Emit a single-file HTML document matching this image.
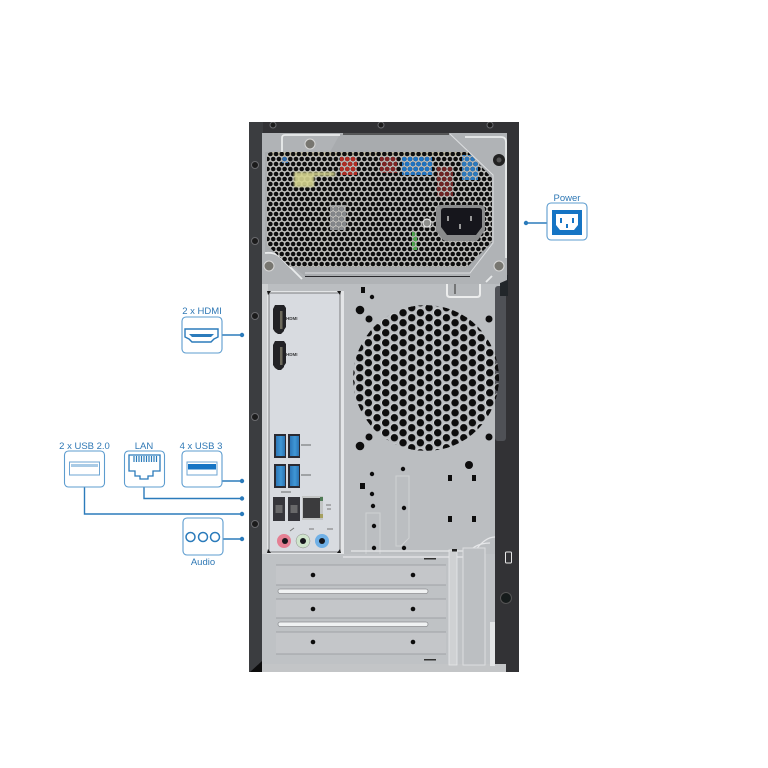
<!DOCTYPE html>
<html>
<head>
<meta charset="utf-8">
<style>
html,body{margin:0;padding:0;background:#fff;width:768px;height:768px;overflow:hidden}
svg{display:block}
text{font-family:"Liberation Sans",sans-serif;font-size:9.5px;fill:#2f78b5;text-anchor:middle}
text.hd{font-size:4.5px;font-weight:bold;fill:#3a3b3d;text-anchor:start}
</style>
</head>
<body>
<svg width="768" height="768" viewBox="0 0 768 768" xmlns="http://www.w3.org/2000/svg">
<defs>
<linearGradient id="metal" x1="0" y1="0" x2="1" y2="1">
<stop offset="0" stop-color="#c3c6c9"/><stop offset=".45" stop-color="#b6b9bc"/><stop offset="1" stop-color="#c2c5c8"/>
</linearGradient>
<linearGradient id="usbb" x1="0" y1="0" x2="1" y2="0">
<stop offset="0" stop-color="#2c77b8"/><stop offset=".55" stop-color="#3f97d6"/><stop offset="1" stop-color="#2a72b2"/>
</linearGradient>
<pattern id="psuhex" width="5.7" height="10" patternUnits="userSpaceOnUse" patternTransform="translate(267.5 154)">
<circle cx="2.85" cy="0" r="2.3" fill="#08080a"/><circle cx="2.85" cy="10" r="2.3" fill="#08080a"/><circle cx="0" cy="5" r="2.3" fill="#08080a"/><circle cx="5.7" cy="5" r="2.3" fill="#08080a"/>
</pattern>
<pattern id="psuhexw" width="5.7" height="10" patternUnits="userSpaceOnUse" patternTransform="translate(267.5 154)">
<circle cx="2.85" cy="0" r="2.3" fill="#fff"/><circle cx="2.85" cy="10" r="2.3" fill="#fff"/><circle cx="0" cy="5" r="2.3" fill="#fff"/><circle cx="5.7" cy="5" r="2.3" fill="#fff"/>
</pattern>
<pattern id="fanhex" width="17.34" height="10" patternUnits="userSpaceOnUse" patternTransform="translate(411.7 307.7)">
<g fill="#f3f4f5" opacity=".65"><circle cx="-.3" cy="-.4" r="4.1"/><circle cx="17.04" cy="-.4" r="4.1"/><circle cx="-.3" cy="9.6" r="4.1"/><circle cx="17.04" cy="9.6" r="4.1"/><circle cx="8.37" cy="4.6" r="4.1"/></g>
<g fill="#08080a"><circle cx="0" cy="0" r="3.75"/><circle cx="17.34" cy="0" r="3.75"/><circle cx="0" cy="10" r="3.75"/><circle cx="17.34" cy="10" r="3.75"/><circle cx="8.67" cy="5" r="3.75"/></g>
</pattern>
<mask id="holemask" maskUnits="userSpaceOnUse" x="260" y="145" width="240" height="130"><rect x="260" y="145" width="240" height="130" fill="url(#psuhexw)"/></mask>
<clipPath id="psuclip"><path d="M272 152H468L492 178V242L467 267H290L267 245V157Q267 152 272 152Z"/></clipPath>
<clipPath id="fanclip"><circle cx="426" cy="378" r="73"/></clipPath>
<filter id="soft" x="-5%" y="-5%" width="110%" height="110%"><feGaussianBlur stdDeviation="1"/></filter>
<filter id="all" x="0" y="0" width="100%" height="100%"><feGaussianBlur stdDeviation=".3"/></filter>
</defs>

<g filter="url(#all)">
<!-- chassis -->
<rect x="249" y="122" width="270" height="550" fill="#303135"/>
<rect x="249" y="122" width="14" height="550" fill="#3b3c41"/>
<polygon points="262,133 507,133 507,283 495,290 495,664 506,664 506,672 262,672" fill="url(#metal)"/>
<rect x="495" y="286" width="11" height="155" rx="3" fill="#505156"/>
<rect x="500" y="275" width="8" height="21" fill="#242529"/>
<path d="M250 672l12-11v11z" fill="#111"/>

<!-- PSU plate -->
<polygon points="262,133 507,133 507,280 498,284 262,284" fill="#b0b3b6"/>
<polygon points="340,134 450,134 493,175 493,243 470,273 305,276 280,257 265,253 265,152 330,152" fill="#a8abae"/>
<path d="M282 152v-14q0-3 3-3h55M465 137h36q5 0 5 5v116M265 253q10-1 15 4l22 22M486 282l6-6" fill="none" stroke="#e9ebec" stroke-width="1.800"/>
<path d="M450 134l43 41v68l-23 30H305" fill="none" stroke="#dcdee0" stroke-width="1"/>
<path d="M343 134h106" stroke="#222" stroke-width="1.200"/>
<path d="M305 276.500h165" stroke="#2c2c2e" stroke-width="1"/>

<!-- PSU grille -->
<path d="M272 152H468L492 178V242L467 267H290L267 245V157Q267 152 272 152Z" fill="#c2c2bf"/>
<g clip-path="url(#psuclip)">
<rect x="268" y="152" width="200" height="4" fill="#c2bda6"/>
<rect x="260" y="145" width="240" height="130" fill="url(#psuhex)"/>
<g mask="url(#holemask)">
<rect x="340" y="157" width="17" height="18" fill="#b02a22"/>
<rect x="380" y="157" width="17" height="16" fill="#7e2424"/>
<rect x="402" y="157" width="30" height="18" fill="#1f72c2"/>
<rect x="462" y="155" width="16" height="25" fill="#2a79bf"/>
<rect x="437" y="167" width="16" height="30" fill="#6e2224"/>
<rect x="412" y="232" width="5" height="18" fill="#48a348"/>
<rect x="282" y="157" width="6" height="6" fill="#2a66a8"/>
<rect x="330" y="205" width="16" height="25" fill="#83868a"/>
</g>
<g filter="url(#soft)" opacity=".9">
<rect x="294" y="172" width="20" height="15" fill="#d6d590"/><rect x="294" y="172" width="41" height="4" fill="#d6d590"/>
</g>
</g>
<!-- power socket -->
<path d="M441 205h39q5 0 5 5v20l-7 10q-1 1-3 1h-29q-2 0-3-1l-7-9v-21q0-5 5-5z" fill="#8a8b8c"/>
<path d="M444 208h35q3 0 3 3v16l-6 8h-29l-6-8v-16q0-3 3-3z" fill="#17171a"/>
<rect x="447" y="216" width="2" height="5" fill="#999"/><rect x="470" y="216" width="2" height="5" fill="#999"/><rect x="459" y="224" width="2" height="5" fill="#999"/>
<circle cx="427" cy="223" r="4" fill="#8e8f8c" stroke="#e3e3e3" stroke-width="1.200"/>
<!-- screws -->
<g fill="#77766f" stroke="#d8d8d8" stroke-width="1">
<circle cx="310" cy="144" r="5"/><circle cx="269" cy="266" r="5"/><circle cx="499" cy="266" r="5"/>
</g>
<circle cx="499" cy="160" r="6" fill="#222"/><circle cx="499" cy="160" r="2.500" fill="#555"/>
<g fill="#1c1c1f" stroke="#6a6b6e" stroke-width="1">
<circle cx="273" cy="125" r="3"/><circle cx="381" cy="125" r="3"/><circle cx="490" cy="125" r="3"/>
<circle cx="255" cy="165" r="3.500"/><circle cx="255" cy="241" r="3.500"/><circle cx="255" cy="316" r="3.500"/><circle cx="255" cy="417" r="3.500"/><circle cx="255" cy="524" r="3.500"/>
</g>
<circle cx="506" cy="598" r="5.500" fill="#191a1c" stroke="#555"/>
<rect x="505.500" y="552" width="6" height="11" rx="1" fill="#303135" stroke="#e8e8e8"/>

<!-- lower metal -->
<rect x="262" y="284" width="233" height="270" fill="#bbbec1"/>
<rect x="262" y="284" width="6" height="270" fill="#cdcfd1"/>
<path d="M447 284v10q0 3 3 3h27q3 0 3-3v-10" fill="#b5b8bb" stroke="#eceded" stroke-width="2"/>
<path d="M455 284v10" stroke="#333"/>
<!-- fan -->
<circle cx="426" cy="378" r="73" fill="url(#fanhex)" clip-path="url(#fanclip)"/>
<g fill="#0c0c0f">
<circle cx="360" cy="310" r="4.300"/><circle cx="369" cy="319" r="3.500"/><circle cx="489" cy="319" r="3.500"/>
<circle cx="360" cy="446" r="4.300"/><circle cx="369" cy="437" r="3.500"/><circle cx="489" cy="437" r="3.500"/>
<circle cx="469" cy="465" r="4"/><circle cx="403" cy="469" r="2.200"/><circle cx="372" cy="474" r="2.200"/>
<circle cx="372" cy="494" r="2.200"/><circle cx="373" cy="506" r="2.200"/><circle cx="404" cy="508" r="2.200"/><circle cx="374" cy="526" r="2.200"/>
<circle cx="374" cy="548" r="2.200"/><circle cx="404" cy="548" r="2.200"/><circle cx="372" cy="297" r="2.200"/>
<rect x="361" y="287" width="4" height="6"/><rect x="360" y="483" width="5" height="6"/>
<rect x="448" y="475" width="4" height="6"/><rect x="472" y="475" width="4" height="6"/>
<rect x="448" y="516" width="4" height="6"/><rect x="472" y="516" width="4" height="6"/>
</g>
<path d="M396 476h13v62l-8 8h-5zM366 513h14v42h-14z" fill="none" stroke="#cfd1d3" stroke-width="1"/>
<path d="M351 551h124q10-14 20-14" fill="none" stroke="#e6e7e9" stroke-width="1.200"/>

<!-- IO shield -->
<rect x="267" y="291" width="77" height="266" fill="#e3e5e7"/>
<rect x="269" y="293" width="71" height="259" fill="#d8dbe0" stroke="#7c7e81" stroke-width="1"/>
<g fill="#141416"><path d="M267 291h4l-3 4zM341 291h-4l3 4zM267 553h4l-3-4zM341 553h-4l3-4z"/></g>
<!-- HDMI -->
<g fill="#232326">
<path d="M275 305h9l2 3v19l-2 3v1l-3 3h-3l-3-2-2-3v-20z"/><path d="M275 341h9l2 3v19l-2 3v1l-3 3h-3l-3-2-2-3v-20z"/>
</g>
<g fill="#6d6a5c"><rect x="280" y="311" width="2.500" height="18"/><rect x="280" y="347" width="2.500" height="18"/></g>
<text class="hd" x="286" y="320">HDMI</text>
<text class="hd" x="286" y="356">HDMI</text>
<!-- USB3 -->
<rect x="274" y="434" width="12" height="24" fill="#2a2b30"/><rect x="276" y="436" width="9" height="20" fill="url(#usbb)"/>
<rect x="288" y="434" width="12" height="24" fill="#2a2b30"/><rect x="290" y="436" width="9" height="20" fill="url(#usbb)"/>
<rect x="274" y="464" width="12" height="24" fill="#2a2b30"/><rect x="276" y="466" width="9" height="20" fill="url(#usbb)"/>
<rect x="288" y="464" width="12" height="24" fill="#2a2b30"/><rect x="290" y="466" width="9" height="20" fill="url(#usbb)"/>
<path d="M301 445h10M301 475h10M281 492h10" stroke="#66686b" stroke-width="1"/>
<!-- USB2 -->
<rect x="273" y="497" width="12" height="24" fill="#34343a"/><rect x="288" y="497" width="12" height="24" fill="#34343a"/>
<rect x="275.500" y="505" width="7" height="8" fill="#68686a"/><rect x="290.500" y="505" width="7" height="8" fill="#68686a"/>
<!-- LAN -->
<rect x="302" y="496" width="21" height="24" fill="#c3c5c5"/>
<rect x="303" y="498" width="17" height="20" fill="#3a3b3e"/>
<rect x="320" y="497" width="3" height="4" fill="#4f7a55"/><rect x="320" y="514" width="3" height="4" fill="#a5a060"/>
<path d="M326 505h5M327 509h4" stroke="#777"/>
<!-- audio -->
<circle cx="284" cy="541" r="7" fill="#e57f93"/><circle cx="285" cy="541" r="3" fill="#17171a"/>
<circle cx="303" cy="541" r="7" fill="#cfe4cc" stroke="#888" stroke-width=".5"/><circle cx="303" cy="541" r="3" fill="#17171a"/>
<circle cx="322" cy="541" r="7" fill="#6fb0e6"/><circle cx="322" cy="541" r="3" fill="#17171a"/>
<path d="M290 531l4-3M309 529h5M327 529h6" stroke="#777"/>

<!-- expansion area -->
<rect x="262" y="554" width="233" height="118" fill="#bfc2c5"/>
<rect x="262" y="664" width="244" height="8" fill="#c3c5c7"/>
<rect x="276" y="565" width="170" height="20" fill="#c4c6c9"/>
<rect x="276" y="599" width="170" height="19" fill="#c4c6c9"/>
<rect x="276" y="632" width="170" height="22" fill="#c4c6c9"/>
<path d="M276 565h170M276 585h170M276 599h170M276 618h170M276 632h170M276 654h170" stroke="#95989b" stroke-width=".7"/>
<rect x="278" y="589" width="150" height="4.500" rx="2.200" fill="#f0f2f3" stroke="#8d8f92" stroke-width=".8"/>
<rect x="278" y="622" width="150" height="4.500" rx="2.200" fill="#f0f2f3" stroke="#8d8f92" stroke-width=".8"/>
<path d="M343 557h122q8-14 25-14" fill="none" stroke="#e6e7e9" stroke-width="1.200"/>
<g fill="#0c0c0f">
<circle cx="313" cy="575" r="2.300"/><circle cx="413" cy="575" r="2.300"/>
<circle cx="313" cy="609" r="2.300"/><circle cx="413" cy="609" r="2.300"/>
<circle cx="313" cy="642" r="2.300"/><circle cx="413" cy="642" r="2.300"/>
</g>
<rect x="424" y="558" width="12" height="1.500" fill="#333"/><rect x="424" y="659" width="12" height="1.500" fill="#333"/>
<path d="M449 550h8v115h-8z" fill="#cfd1d3" stroke="#e7e8e9" stroke-width=".8"/>
<rect x="452" y="549" width="5" height="2.500" fill="#222"/>
<rect x="463" y="548" width="22" height="117" fill="#bcbfc2" stroke="#dcdee0"/>
<rect x="490" y="622" width="5" height="44" fill="#e3e5e6"/>
</g>

<!-- callouts -->
<g fill="none" stroke="#2b7bbb" stroke-width="1.400">
<path d="M222 335h20M222 481h20M144 487v11.500h98M84.500 487v27h157.500M223 539h19M526 223h21"/>
</g>
<g fill="#2b7bbb">
<circle cx="242" cy="335" r="2.200"/><circle cx="242" cy="481" r="2.200"/><circle cx="242" cy="498.500" r="2.200"/><circle cx="242" cy="514" r="2.200"/><circle cx="242" cy="539" r="2.200"/><circle cx="526" cy="223" r="2.200"/>
</g>
<g fill="#fff" stroke="#5c9ccf" stroke-width="1.100">
<rect x="182" y="317" width="40" height="36" rx="4"/>
<rect x="182" y="451" width="40" height="36" rx="4"/>
<rect x="124.500" y="451" width="40" height="36" rx="4"/>
<rect x="64.500" y="451" width="40" height="36" rx="4"/>
<rect x="183" y="518" width="40" height="37" rx="4"/>
<rect x="547" y="203" width="40" height="37" rx="4"/>
</g>
<!-- HDMI icon -->
<path d="M185 329h33v8l-4 2-3 3h-19l-3-3-4-2z" fill="none" stroke="#2b7bbb" stroke-width="1.400"/>
<path d="M189 334h25l-3 3h-19z" fill="#2b7bbb"/>
<!-- USB3 icon -->
<rect x="187" y="462" width="30" height="13" fill="#fff" stroke="#6ea5d3" stroke-width="1"/>
<rect x="188" y="464" width="28" height="5.500" fill="#1574c4"/>
<!-- USB2 icon -->
<rect x="69.500" y="462" width="30" height="13" fill="#fff" stroke="#6ea5d3" stroke-width="1"/>
<rect x="71" y="464" width="27" height="3" fill="#a9cbe6"/>
<!-- LAN icon -->
<path d="M129 455h31v16h-7v5h-5v3h-8v-3h-5v-5h-6z" fill="none" stroke="#2b7bbb" stroke-width="1.300"/>
<path d="M134 456v6M136.500 456v6M139 456v6M141.500 456v6M144 456v6M146.500 456v6M149 456v6M151.500 456v6M154 456v6M156.500 456v6" stroke="#2b7bbb" stroke-width="1.200"/>
<!-- audio icon -->
<g fill="none" stroke="#2b7bbb" stroke-width="1.500">
<circle cx="190.500" cy="537" r="4.500"/><circle cx="203" cy="537" r="4.500"/><circle cx="215" cy="537" r="4.500"/>
</g>
<!-- power icon -->
<rect x="552" y="210" width="30" height="25" fill="#1574c4"/>
<path d="M556 214h22v11l-4 5h-14l-4-5z" fill="#fff"/>
<g fill="#1574c4"><rect x="560" y="218" width="2" height="5"/><rect x="572" y="218" width="2" height="5"/><rect x="566" y="224" width="2" height="4"/></g>

<text x="202" y="314">2 x HDMI</text>
<text x="84.500" y="449">2 x USB 2.0</text>
<text x="144" y="449">LAN</text>
<text x="201" y="449">4 x USB 3</text>
<text x="203" y="565">Audio</text>
<text x="567" y="201">Power</text>
</svg>
</body>
</html>
